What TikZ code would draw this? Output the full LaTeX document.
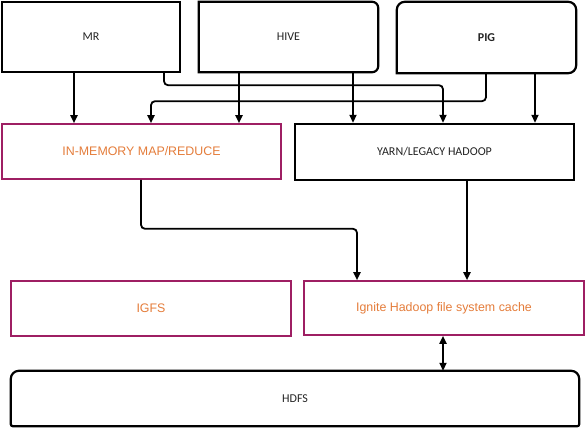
\documentclass[tikz,border=0pt]{standalone}
\usepackage{fontspec}
\setmainfont{Carlito}
\newfontfamily\arialf{Liberation Sans}
\usetikzlibrary{arrows.meta}
\definecolor{boxpurple}{RGB}{158,31,99}
\definecolor{txtorange}{RGB}{228,124,58}
\definecolor{txtdark}{RGB}{35,35,35}
\begin{document}
\begin{tikzpicture}[x=1pt,y=-1pt,
  topbox/.style={draw=none, minimum height=70pt, inner sep=0pt, text=txtdark, font=\fontsize{12}{14}\selectfont},
  blkline/.style={line width=2.2pt, black},
  ignbox/.style={draw=boxpurple, line width=1.6pt, inner sep=0pt, text=txtorange, font=\arialf\fontsize{12.4}{14}\selectfont},
  yarnbox/.style={draw=black, line width=2.4pt, inner sep=0pt, text=txtdark, font=\fontsize{12}{14}\selectfont},
  tip/.tip={Triangle[length=8pt,width=7pt]},
  conn/.style={line width=1.8pt, rounded corners=4pt, -tip},
  biconn/.style={line width=1.8pt, tip-tip},
]
\useasboundingbox (0,0) rectangle (586,429);

% top row
\node[topbox, minimum width=178pt] (mr) at (91,37) {MR};
\node[topbox, minimum width=179pt] (hive) at (288.5,37) {HIVE};
\node[topbox, minimum width=179pt, minimum height=71pt, font=\bfseries\fontsize{12}{14}\selectfont] (pig) at (486.5,37.5) {PIG};

\draw[blkline] (mr.north west) rectangle (mr.south east);
\draw[blkline] (hive.south west) -- (hive.north west) [rounded corners=6pt] -- (hive.north east) -- (hive.south east) [sharp corners] -- cycle;
\draw[blkline] (pig.south west) [rounded corners=8pt] -- (pig.north west) -- (pig.north east) -- (pig.south east) [sharp corners] -- cycle;

% middle row
\node[ignbox, minimum width=279pt, minimum height=55pt] (inmem) at (141.5,151.5) {IN-MEMORY MAP/REDUCE};
\node[yarnbox, minimum width=279pt, minimum height=56pt] (yarn) at (434.5,152) {YARN/LEGACY HADOOP};

% third row
\node[ignbox, minimum width=280pt, minimum height=55pt] (igfs) at (151,308.5) {IGFS};
\node[ignbox, minimum width=280pt, minimum height=54pt] (ignite) at (444,308) {Ignite Hadoop file system cache};

% HDFS
\node[topbox, minimum width=568pt, minimum height=55pt] (hdfs) at (295,398.5) {HDFS};
\draw[blkline] (hdfs.south west) [rounded corners=8pt] -- (hdfs.north west) -- (hdfs.north east) [rounded corners=2pt] -- (hdfs.south east) -- cycle;

% x positions of connectors
\coordinate (x74) at (74,0);
\coordinate (x164) at (164,0);
\coordinate (x239) at (239,0);
\coordinate (x353) at (353,0);
\coordinate (x443) at (443,0);
\coordinate (x486) at (486,0);
\coordinate (x151) at (151,0);
\coordinate (x535) at (535,0);
\coordinate (x141) at (141,0);
\coordinate (x357) at (357,0);
\coordinate (x467) at (467,0);

% connectors
\draw[conn] (mr.south -| x74) -- (inmem.north -| x74);
\draw[conn] (mr.south -| x164) -- ++(0,13) -| (yarn.north -| x443);
\draw[conn] (hive.south -| x239) -- (inmem.north -| x239);
\draw[conn] (hive.south -| x353) -- (yarn.north -| x353);
\draw[conn] (pig.south -| x486) -- ++(0,28) -| (inmem.north -| x151);
\draw[conn] (pig.south -| x535) -- (yarn.north -| x535);
\draw[conn] (inmem.south -| x141) -- ++(0,49) -| (ignite.north -| x357);
\draw[conn] (yarn.south -| x467) -- (ignite.north -| x467);
\draw[biconn] (ignite.south -| x443) -- (hdfs.north -| x443);
\end{tikzpicture}
\end{document}
